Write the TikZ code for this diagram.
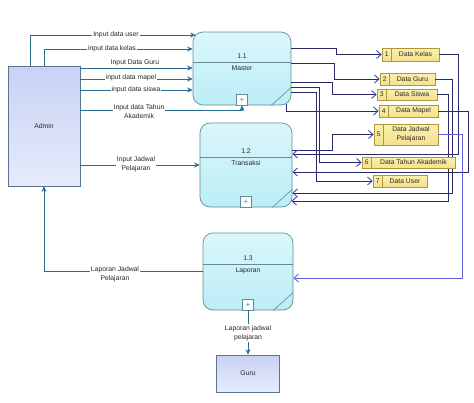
\documentclass[tikz,border=0pt]{standalone}
\usepackage{fontspec}
\setmainfont{Liberation Sans}
\usetikzlibrary{arrows.meta,calc}
\definecolor{tealc}{RGB}{40,110,140}
\definecolor{navyc}{RGB}{42,42,105}
\definecolor{headc}{RGB}{60,60,175}
\definecolor{lightbl}{RGB}{95,95,215}
\definecolor{txtc}{RGB}{40,40,40}
\definecolor{procbd}{RGB}{100,140,150}
\definecolor{proctop}{RGB}{218,247,251}
\definecolor{procbot}{RGB}{188,237,246}
\definecolor{entbd}{RGB}{90,115,150}
\definecolor{enttop}{RGB}{200,210,243}
\definecolor{entbot}{RGB}{230,235,251}
\definecolor{stbd}{RGB}{175,152,60}
\definecolor{sttop}{RGB}{251,240,175}
\definecolor{stbot}{RGB}{245,225,140}
\tikzset{
  txt/.style={font=\fontsize{6.8}{9}\selectfont, text=txtc, inner sep=0.5pt},
  lbl/.style={txt, fill=white, align=center, inner sep=1pt},
  proc/.style={draw=procbd, line width=0.7pt, rounded corners=10pt, top color=proctop, bottom color=procbot},
  procline/.style={draw=procbd, line width=0.6pt},
  plusbox/.style={draw=procbd, fill=white!85!proctop, line width=0.6pt, minimum size=11pt, inner sep=0pt, font=\fontsize{8}{8}\selectfont, text=procbd},
  ent/.style={draw=entbd, line width=0.7pt, top color=enttop, bottom color=entbot},
  store/.style={draw=stbd, line width=0.7pt, top color=sttop, bottom color=stbot},
  storeline/.style={draw=stbd, line width=0.6pt},
  aline/.style={draw=tealc, line width=0.8pt, -{Stealth[length=5.5pt,width=5pt]}},
  sline/.style={draw=navyc, line width=0.85pt, -{Straight Barb[length=4.5pt,width=8pt,color=headc]}},
  bline/.style={draw=lightbl, line width=0.85pt, -{Straight Barb[length=4.5pt,width=8pt,color=lightbl]}},
}
\newcommand\proc[7]{%
  \node[proc, minimum width=#4pt, minimum height=#5pt] (#1) at (#2,#3) {};
  \coordinate (#1d) at ($(#1.north)!0.41!(#1.south)$);
  \draw[procline] (#1.west |- #1d) -- (#1.east |- #1d);
  \node[txt] (#1num) at ($(#1d)+(0,-6)$) {#6};
  \node[txt] (#1ttl) at ($(#1d)+(0,6)$) {#7};
  \node[plusbox] (#1p) at ($(#1.south)+(0,-5.5)$) {+};
  \draw[procline] ($(#1.south east)+(0,-18)$) -- ($(#1.south east)+(-20,0)$);
}
\newcommand\dstore[7]{%
  \node[store, minimum width=#4pt, minimum height=#5pt, inner sep=0pt] (#1) at (#2,#3) {};
  \draw[storeline] ([xshift=10pt]#1.north west) -- ([xshift=10pt]#1.south west);
  \node[txt] (#1n) at ($(#1.west)+(5,0)$) {#6};
  \node[txt, align=center] (#1t) at ($(#1.east)!0.5!([xshift=10pt]#1.west)$) {#7};
}
\begin{document}
\begin{tikzpicture}[x=1pt,y=-1pt]
\useasboundingbox (0,0) rectangle (474,402);
\fill[white] (0,0) rectangle (474,402);

% entities
\node[ent, minimum width=72pt, minimum height=120pt] (admin) at (44,126) {};
\node[txt] (admint) at (admin.center) {Admin};
\node[ent, minimum width=63pt, minimum height=37pt] (guru) at (248,373.5) {};
\node[txt] (gurut) at (guru.center) {Guru};

% processes
\proc{master}{242}{68.5}{98}{73}{1.1}{Master}
\proc{trans}{246}{165}{92}{84}{1.2}{Transaksi}
\proc{lap}{248}{271.5}{90}{77}{1.3}{Laporan}

% data stores
\dstore{s1}{410.5}{54.5}{57}{13}{1}{Data Kelas}
\dstore{s2}{407.5}{79}{55}{12}{2}{Data Guru}
\dstore{s3}{407}{94.5}{60}{11}{3}{Data Siswa}
\dstore{s4}{408.5}{111}{59}{12}{4}{Data Mapel}
\dstore{s5}{406}{134.5}{64}{21}{5}{Data Jadwal\\Pelajaran}

% store connectors
\draw[sline] (master.east |- 0,48) -| (336,0 |- s1.west) -- (s1.west);
\draw[sline] (master.east |- 0,63) -| (334,0 |- s2.west) -- (s2.west);
\draw[sline] (master.east |- 0,82) -| (332,0 |- s3.west) -- (s3.west);
\draw[sline] ($(master.south east)+(-5,-1.3)$) |- (s4.west);
\draw[sline] (trans.east |- 0,150) -| (332,0 |- s5.west) -- (s5.west);
\draw[sline] (s1.east) -| (458,154) -- (trans.east |- 0,154);
\draw[sline] (s2.east) -| (452,193) -- (trans.east |- 0,193);
\draw[sline] (s3.east) -| (448,201) -- ($(trans.east |- 0,201)+(-1,0)$);
\draw[sline] (s4.east) -| (468,172) -- (trans.east |- 0,172);
\draw[bline] (s5.east) -| (462,278) -- (lap.east |- 0,278);

\dstore{s6}{408.5}{162.5}{93}{11}{6}{Data Tahun Akademik}
\dstore{s7}{400}{181}{54}{12}{7}{Data User}
\draw[sline] (master.east |- 0,87) -| (319,0 |- s6.west) -- (s6.west);
\draw[sline] (master.east |- 0,92) -| (316,0 |- s7.west) -- (s7.west);

% admin connectors
\draw[aline] (admin.north -| 30,0) |- ($(master.west |- 0,35)+(3,0)$);
\draw[aline] (admin.north) |- (master.west |- 0,49);
\draw[aline] (admin.east |- 0,68) -- (master.west |- 0,68);
\draw[aline] (admin.east |- 0,79) -- (master.west |- 0,79);
\draw[aline] (admin.east |- 0,90) -- (master.west |- 0,90);
\draw[aline] (admin.east |- 0,110) -| (master.south);
\draw[aline] (admin.east |- trans.west) -- (trans.west);
\draw[aline] (lap.west) -| (admin.south);
\draw[aline] (lap.south) -- (guru.north);

% labels
\node[lbl] (l1) at (116,35) {Input data user};
\node[lbl] (l2) at (112,49) {input data kelas};
\node[lbl] (l3) at (135,63) {Input Data Guru};
\node[lbl] (l4) at (131,78) {input data mapel};
\node[lbl] (l5) at (136,90) {input data siswa};
\node[lbl] (l6) at (139,112) {Input data Tahun\\Akademik};
\node[lbl] (l7) at (136,164) {Input Jadwal\\Pelajaran};
\node[lbl] (l8) at (115,274) {Laporan Jadwal\\Pelajaran};
\node[lbl] (l9) at (248,333) {Laporan jadwal\\pelajaran};
\end{tikzpicture}
\end{document}
